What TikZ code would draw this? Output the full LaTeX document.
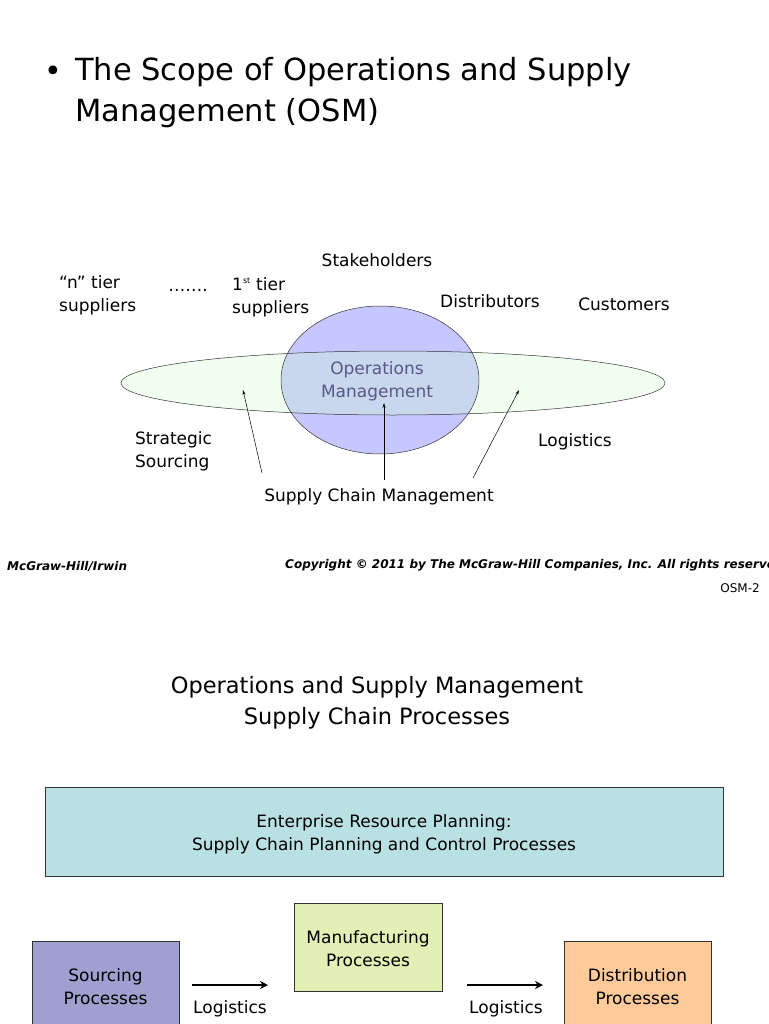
\documentclass[tikz,border=0pt]{standalone}
\usepackage{fontspec}
\usetikzlibrary{arrows.meta}
\setmainfont{DejaVu Sans}
\begin{document}
\begin{tikzpicture}[x=1pt,y=-1pt,
  lab/.style={font=\fontsize{17}{23}\selectfont,align=center,inner sep=0},
  box/.style={draw=black!80,line width=0.6pt,align=center,font=\fontsize{17}{23}\selectfont,inner sep=0},
  thin/.style={-{Stealth[length=5pt,width=3pt]},line width=0.5pt},
  fat/.style={-{Stealth[length=8pt,width=8pt]},line width=2pt}]
\useasboundingbox (0,0) rectangle (768,1024);
\clip (0,0) rectangle (768,1024);
\fill[white] (0,0) rectangle (768,1024);
% title
\node[anchor=center,font=\fontsize{30}{41}\selectfont,inner sep=0] (b) at (53,74) {•};
\node[anchor=west,align=left,font=\fontsize{30.5}{41}\selectfont,inner sep=0] (t) at (75,93) {The Scope of Operations and Supply\\Management (OSM)};
% ellipses
\fill[green!6] (393,383) ellipse (272 and 32);
\fill[blue!22] (380,380) ellipse (99 and 74);
\begin{scope}
\clip (393,383) ellipse (272 and 32);
\fill[color={rgb,255:red,200;green,214;blue,238}] (380,380) ellipse (99 and 74);
\end{scope}
\draw[line width=0.5pt,black!80] (393,383) ellipse (272 and 32);
\draw[line width=0.5pt,black!80] (380,380) ellipse (99 and 74);
\node[lab,text=black!40!blue!30!gray] (om) at (377,381) {Operations\\Management};
\node[lab,align=left,anchor=west] (nt) at (59,295) {“n” tier\\suppliers};
\node[lab] (dots) at (188,290) {…….};
\node[lab,align=left,anchor=west] (ft) at (232,297) {1\textsuperscript{\fontsize{8}{8}\selectfont st} tier\\suppliers};
\node[lab] (st) at (377,260) {Stakeholders};
\node[lab] (di) at (490,301) {Distributors};
\node[lab] (cu) at (624,304) {Customers};
\node[lab,align=left,anchor=west] (ss) at (135,451) {Strategic\\Sourcing};
\node[lab] (lo) at (575,442) {Logistics};
\node[lab] (scm) at (379,497) {Supply Chain Management};
\coordinate (a1) at (262,473); \coordinate (a1e) at (243,390);
\coordinate (a2) at (384,480); \coordinate (a2e) at (384,403);
\coordinate (a3) at (473,478); \coordinate (a3e) at (519,390);
\draw[thin] (a1) -- (a1e);
\draw[thin] (a2) -- (a2e);
\draw[thin] (a3) -- (a3e);
% footer
\node[anchor=west,font=\bfseries\itshape\fontsize{12}{13}\selectfont,inner sep=0] (mh) at (7,566) {McGraw-Hill/Irwin};
\node[anchor=west,font=\bfseries\itshape\fontsize{12}{13}\selectfont,inner sep=0] (cp) at (285,565) {Copyright © 2011 by The McGraw-Hill Companies, Inc. All rights reserved.};
\node[anchor=east,font=\fontsize{12}{13}\selectfont,inner sep=0] (osm) at (760,588) {OSM-2};
% second slide
\node[lab,font=\fontsize{22.5}{31}\selectfont] (t2) at (377,703) {Operations and Supply Management\\Supply Chain Processes};
\node[box,fill={rgb,255:red,185;green,224;blue,227},minimum width=678,minimum height=89] (erp) at (384,831.5) {\rule{0pt}{0pt}};
\node[lab] (erpt) at (384,834) {Enterprise Resource Planning:\\Supply Chain Planning and Control Processes};
\node[box,fill={rgb,255:red,226;green,240;blue,181},minimum width=148,minimum height=88] (mf) at (368,947) {};
\node[lab] (mft) at (368,949) {Manufacturing\\Processes};
\node[box,fill={rgb,255:red,160;green,160;blue,208},minimum width=147,minimum height=110] (sp) at (105.5,996) {};
\node[lab] (spt) at (105.5,987) {Sourcing\\Processes};
\node[box,fill={rgb,255:red,253;green,202;blue,153},minimum width=147,minimum height=110] (dp) at (637.5,996) {};
\node[lab] (dpt) at (637.5,987) {Distribution\\Processes};
\coordinate (f1) at (192,985); \coordinate (f1e) at (268,985);
\coordinate (f2) at (467,985); \coordinate (f2e) at (543,985);
\draw[fat] (f1) -- (f1e);
\draw[fat] (f2) -- (f2e);
\node[lab] (l1) at (230,1009) {Logistics};
\node[lab] (l2) at (506,1009) {Logistics};
\end{tikzpicture}
\end{document}
